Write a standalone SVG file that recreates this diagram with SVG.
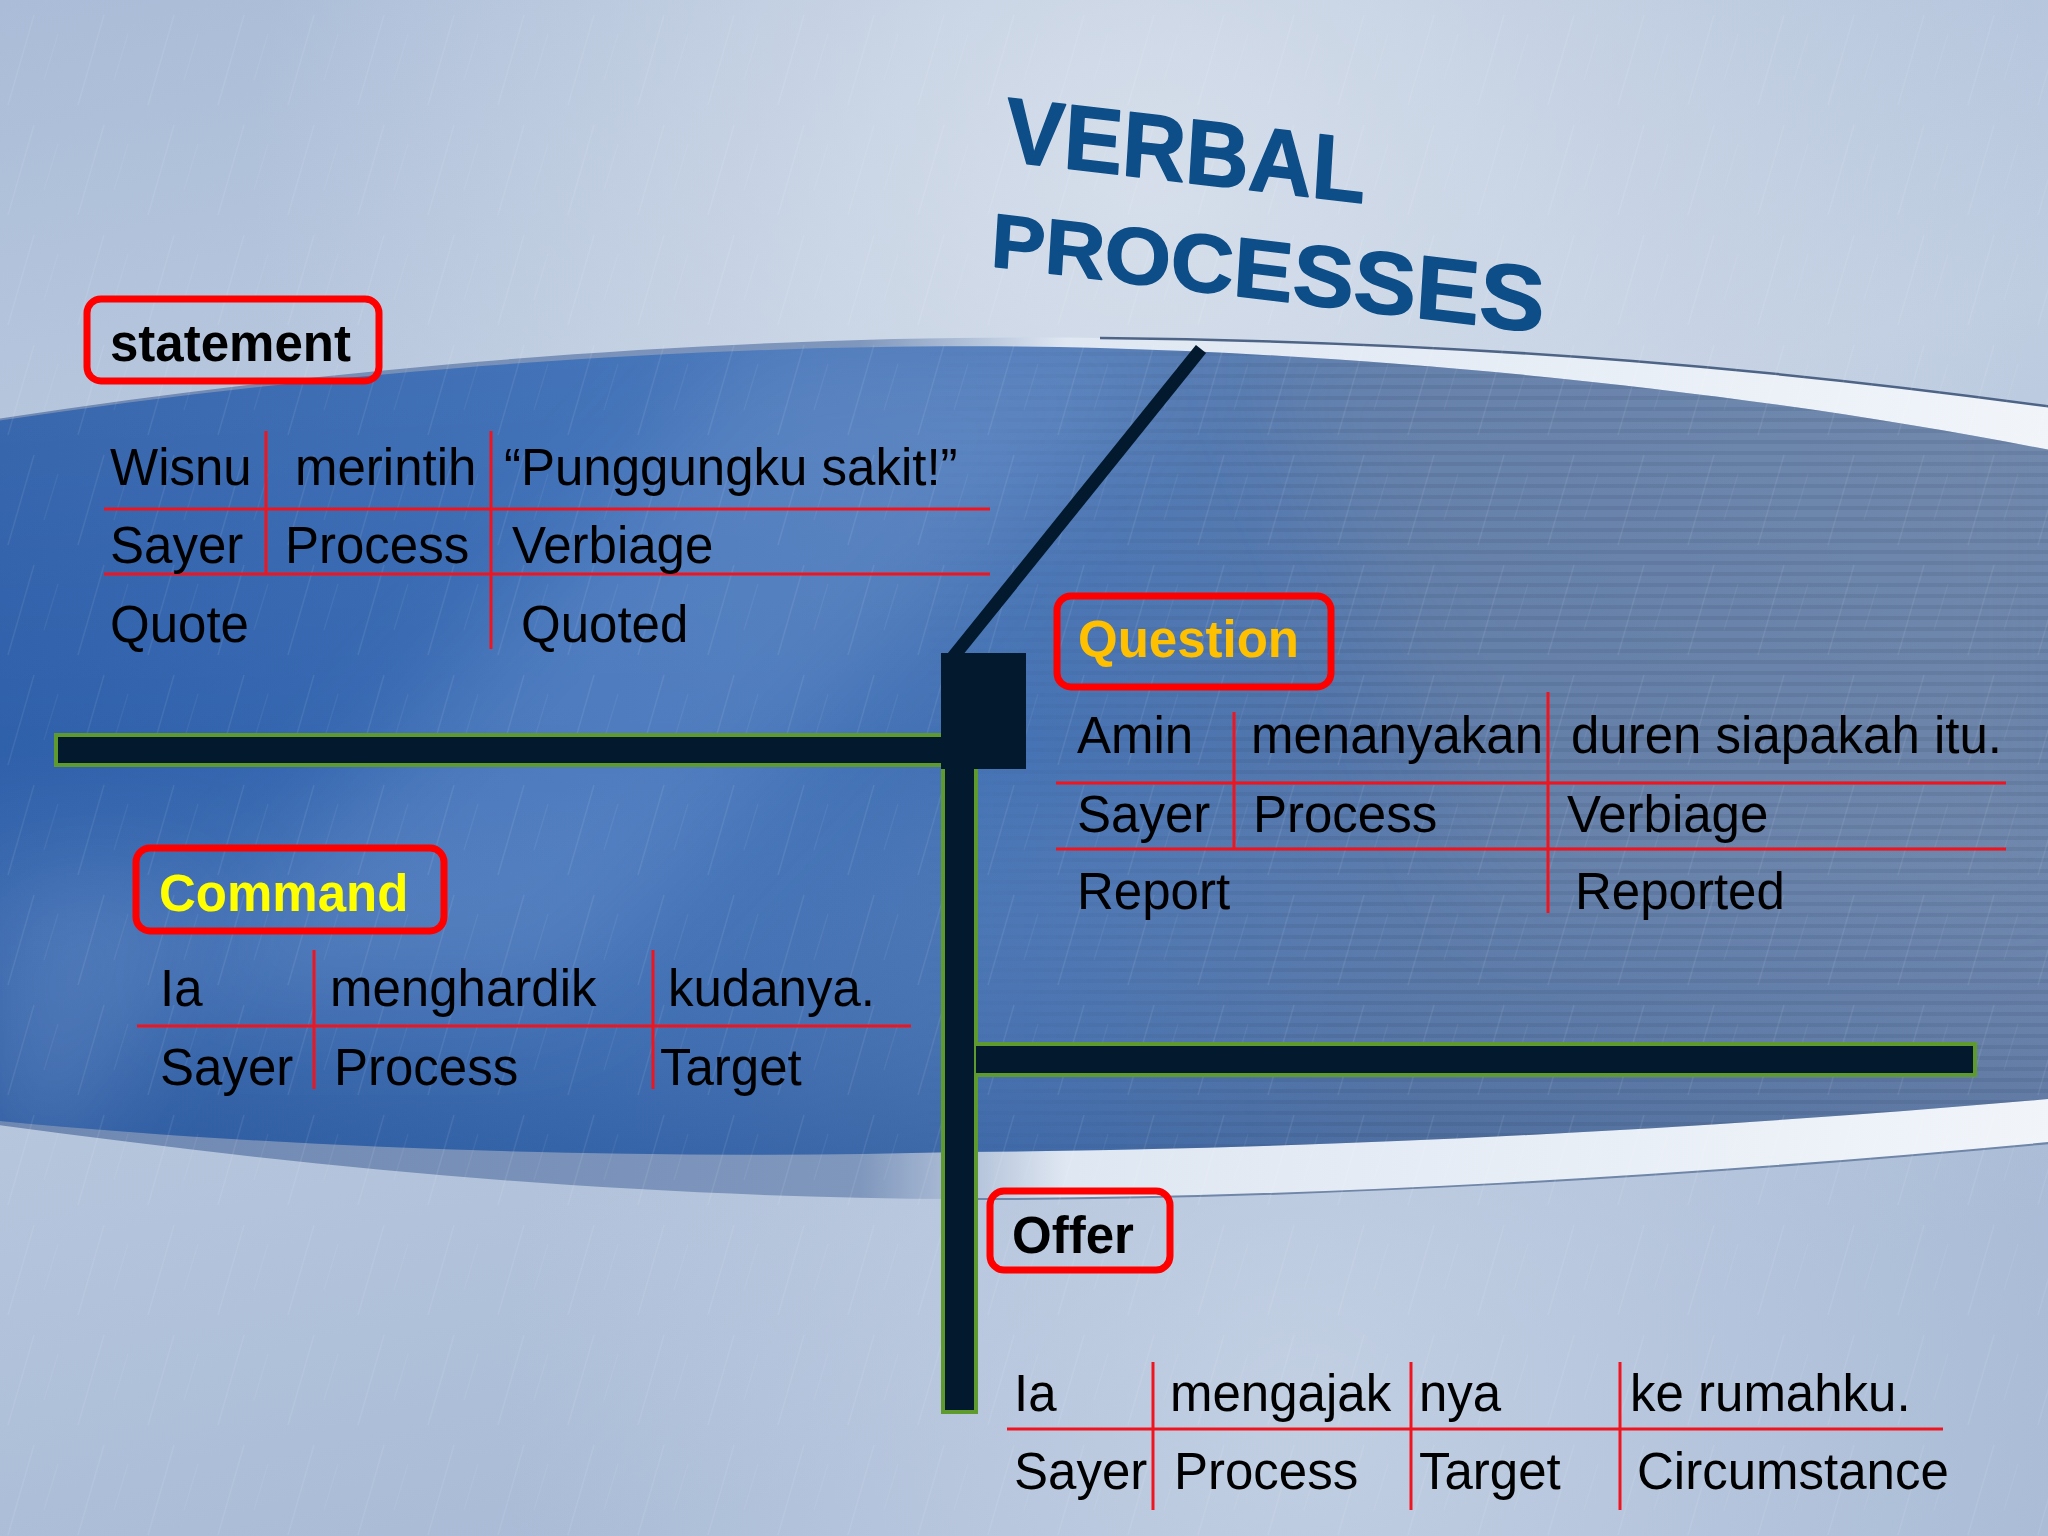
<svg xmlns="http://www.w3.org/2000/svg" width="2048" height="1536" viewBox="0 0 2048 1536">
<defs>
  <linearGradient id="bgGrad" x1="0" y1="0" x2="0.3" y2="1">
    <stop offset="0" stop-color="#aabcd7"/>
    <stop offset="0.45" stop-color="#bfcde1"/>
    <stop offset="1" stop-color="#a9bbd6"/>
  </linearGradient>
  <radialGradient id="bgGlow" cx="1150" cy="180" r="900" gradientUnits="userSpaceOnUse">
    <stop offset="0" stop-color="#d9e1ec" stop-opacity="0.9"/>
    <stop offset="1" stop-color="#d9e1ec" stop-opacity="0"/>
  </radialGradient>
  <radialGradient id="bgGlow2" cx="1300" cy="1400" r="800" gradientUnits="userSpaceOnUse">
    <stop offset="0" stop-color="#c8d4e6" stop-opacity="0.8"/>
    <stop offset="1" stop-color="#c8d4e6" stop-opacity="0"/>
  </radialGradient>
  <linearGradient id="crescent" x1="0" y1="0" x2="1" y2="0">
    <stop offset="0" stop-color="#6f88b2"/>
    <stop offset="0.42" stop-color="#7f97bd"/>
    <stop offset="0.52" stop-color="#dfe7f2"/>
    <stop offset="1" stop-color="#f1f5fa"/>
  </linearGradient>
  <linearGradient id="bandGrad" x1="0" y1="0" x2="1" y2="0">
    <stop offset="0" stop-color="#2f60aa"/>
    <stop offset="0.3" stop-color="#3a6cb5"/>
    <stop offset="0.5" stop-color="#4673b4"/>
    <stop offset="0.7" stop-color="#5878a9"/>
    <stop offset="1" stop-color="#6882ab"/>
  </linearGradient>
  <linearGradient id="bandV" x1="0" y1="0" x2="0" y2="1">
    <stop offset="0" stop-color="#ffffff" stop-opacity="0.06"/>
    <stop offset="0.5" stop-color="#ffffff" stop-opacity="0"/>
    <stop offset="1" stop-color="#0a2a60" stop-opacity="0.2"/>
  </linearGradient>
  <filter id="blur40" x="-50%" y="-50%" width="200%" height="200%">
    <feGaussianBlur stdDeviation="50"/>
  </filter>
  <pattern id="rain" width="70" height="110" patternUnits="userSpaceOnUse">
    <line x1="8" y1="105" x2="34" y2="15" stroke="#ffffff" stroke-opacity="0.08" stroke-width="1.4"/>
    <line x1="44" y1="80" x2="58" y2="34" stroke="#ffffff" stroke-opacity="0.06" stroke-width="1.1"/>
  </pattern>
  <pattern id="stripes" width="20" height="11" patternUnits="userSpaceOnUse">
    <rect x="0" y="0" width="20" height="4" fill="#1a2f50" fill-opacity="0.10"/>
  </pattern>
  <linearGradient id="stripeMaskGrad" x1="0" y1="0" x2="1" y2="0">
    <stop offset="0.45" stop-color="#000"/>
    <stop offset="0.65" stop-color="#fff"/>
  </linearGradient>
  <mask id="stripeMask" maskUnits="userSpaceOnUse" x="0" y="0" width="2048" height="1536">
    <rect x="0" y="0" width="2048" height="1536" fill="url(#stripeMaskGrad)"/>
  </mask>
  <clipPath id="bandClip">
    <path d="M-10,422 C400,360 800,340 1100,348 C1450,358 1800,400 2060,452 L2060,1098 C1700,1130 1300,1150 960,1152 C650,1160 300,1150 -10,1120 Z"/>
  </clipPath>
  <style>
    .t { font-family: "Liberation Sans", Arial, sans-serif; font-size: 51px; fill: #000000; }
    .h { font-family: "Liberation Sans", Arial, sans-serif; font-size: 51px; font-weight: bold; }
    .title { font-family: "Liberation Sans", Arial, sans-serif; font-weight: bold; fill: #0e4e88; stroke: #0e4e88; stroke-width: 1.5; stroke-linejoin: round; }
    .box { fill: none; stroke: #ff0000; stroke-width: 7; }
    .rl { stroke: #f0141e; stroke-width: 3; fill: none; }
    .bar { fill: #03192d; stroke: #5f9a2f; stroke-width: 4; }
    .dark { fill: #03192d; }
  </style>
</defs>

<!-- background -->
<g id="background">
  <rect x="0" y="0" width="2048" height="1536" fill="url(#bgGrad)"/>
  <rect x="0" y="0" width="2048" height="1536" fill="url(#bgGlow)"/>
  <rect x="0" y="0" width="2048" height="1536" fill="url(#bgGlow2)"/>
  <path d="M-10,420 C400,356 800,334 1100,338 C1500,342 1800,372 2060,408 L2060,1142 C1700,1176 1300,1200 960,1199 C600,1197 300,1166 -10,1124 Z" fill="url(#crescent)"/>
  <path d="M1100,338 C1500,342 1800,372 2060,408" fill="none" stroke="#4e6486" stroke-width="2.5"/>
  <path d="M960,1199 C1300,1200 1700,1176 2060,1142" fill="none" stroke="#6f86a8" stroke-width="2"/>
  <g clip-path="url(#bandClip)">
    <rect x="0" y="300" width="2048" height="900" fill="url(#bandGrad)"/>
    <rect x="0" y="300" width="2048" height="900" fill="url(#bandV)"/>
    <polygon points="760,340 1180,340 560,1000 160,1000" fill="#9dbbe6" fill-opacity="0.2" filter="url(#blur40)"/>
    <polygon points="0,880 220,880 60,1160 0,1160" fill="#8fb0e0" fill-opacity="0.25" filter="url(#blur40)"/>
    <polygon points="1250,330 2060,330 2060,900 1500,900" fill="#7f8ea6" fill-opacity="0.25" filter="url(#blur40)"/>
    <rect x="0" y="300" width="2048" height="900" fill="url(#stripes)" mask="url(#stripeMask)"/>
  </g>
  <rect x="0" y="0" width="2048" height="1536" fill="url(#rain)"/>
</g>

<!-- title -->
<g id="title">
  <text class="title" font-size="92" transform="translate(1004,161) rotate(3.5) skewY(3.2)" textLength="362" lengthAdjust="spacingAndGlyphs">VERBAL</text>
  <text class="title" transform="translate(990,266) rotate(3.5) skewY(3.4)" textLength="556" lengthAdjust="spacingAndGlyphs"><tspan font-size="76">P</tspan><tspan font-size="78">R</tspan><tspan font-size="80">O</tspan><tspan font-size="82">C</tspan><tspan font-size="84">E</tspan><tspan font-size="86">S</tspan><tspan font-size="88">S</tspan><tspan font-size="90">E</tspan><tspan font-size="92">S</tspan></text>
</g>

<!-- connectors -->
<g id="connectors">
  <line x1="1201" y1="349" x2="953" y2="657" stroke="#03192d" stroke-width="13"/>
  <rect class="bar" x="56" y="735" width="887" height="30"/>
  <rect class="bar" x="943" y="767" width="33" height="645"/>
  <rect class="dark" x="976" y="1044" width="999" height="31"/>
  <path d="M976,1044 H1975 V1075 H976" fill="none" stroke="#5f9a2f" stroke-width="4"/>
  <rect class="dark" x="941" y="653" width="85" height="116"/>
</g>

<!-- statement -->
<g id="statement">
  <rect class="box" x="87" y="299" width="292" height="82" rx="14"/>
  <text class="h" x="110" y="361" fill="#000000">statement</text>
  <line class="rl" x1="104" y1="509" x2="990" y2="509"/>
  <line class="rl" x1="104" y1="574" x2="990" y2="574"/>
  <line class="rl" x1="266" y1="431" x2="266" y2="573"/>
  <line class="rl" x1="491" y1="431" x2="491" y2="649"/>
  <text class="t" x="110" y="485">Wisnu</text>
  <text class="t" x="295" y="485">merintih</text>
  <text class="t" x="504" y="485">“Punggungku sakit!”</text>
  <text class="t" x="110" y="563">Sayer</text>
  <text class="t" x="285" y="563">Process</text>
  <text class="t" x="512" y="563">Verbiage</text>
  <text class="t" x="110" y="642">Quote</text>
  <text class="t" x="521" y="642">Quoted</text>
</g>

<!-- question -->
<g id="question">
  <rect class="box" x="1057" y="596" width="274" height="91" rx="14"/>
  <text class="h" x="1078" y="657" fill="#ffc000">Question</text>
  <line class="rl" x1="1056" y1="783" x2="2006" y2="783"/>
  <line class="rl" x1="1056" y1="849" x2="2006" y2="849"/>
  <line class="rl" x1="1234" y1="712" x2="1234" y2="848"/>
  <line class="rl" x1="1548" y1="692" x2="1548" y2="913"/>
  <text class="t" x="1077" y="753">Amin</text>
  <text class="t" x="1251" y="753">menanyakan</text>
  <text class="t" x="1571" y="753">duren siapakah itu.</text>
  <text class="t" x="1077" y="832">Sayer</text>
  <text class="t" x="1253" y="832">Process</text>
  <text class="t" x="1567" y="832">Verbiage</text>
  <text class="t" x="1077" y="909">Report</text>
  <text class="t" x="1575" y="909">Reported</text>
</g>

<!-- command -->
<g id="command">
  <rect class="box" x="136" y="848" width="308" height="83" rx="14"/>
  <text class="h" x="159" y="911" fill="#ffff00">Command</text>
  <line class="rl" x1="137" y1="1026" x2="911" y2="1026"/>
  <line class="rl" x1="314" y1="950" x2="314" y2="1089"/>
  <line class="rl" x1="653" y1="950" x2="653" y2="1089"/>
  <text class="t" x="160" y="1006">Ia</text>
  <text class="t" x="330" y="1006">menghardik</text>
  <text class="t" x="668" y="1006">kudanya.</text>
  <text class="t" x="160" y="1085">Sayer</text>
  <text class="t" x="334" y="1085">Process</text>
  <text class="t" x="660" y="1085">Target</text>
</g>

<!-- offer -->
<g id="offer">
  <rect class="box" x="990" y="1191" width="180" height="79" rx="14"/>
  <text class="h" x="1012" y="1253" fill="#000000">Offer</text>
  <line class="rl" x1="1007" y1="1429" x2="1943" y2="1429"/>
  <line class="rl" x1="1153" y1="1362" x2="1153" y2="1510"/>
  <line class="rl" x1="1411" y1="1362" x2="1411" y2="1510"/>
  <line class="rl" x1="1620" y1="1362" x2="1620" y2="1510"/>
  <text class="t" x="1014" y="1411">Ia</text>
  <text class="t" x="1170" y="1411">mengajak</text>
  <text class="t" x="1419" y="1411">nya</text>
  <text class="t" x="1630" y="1411">ke rumahku.</text>
  <text class="t" x="1014" y="1489">Sayer</text>
  <text class="t" x="1174" y="1489">Process</text>
  <text class="t" x="1419" y="1489">Target</text>
  <text class="t" x="1637" y="1489">Circumstance</text>
</g>
</svg>
